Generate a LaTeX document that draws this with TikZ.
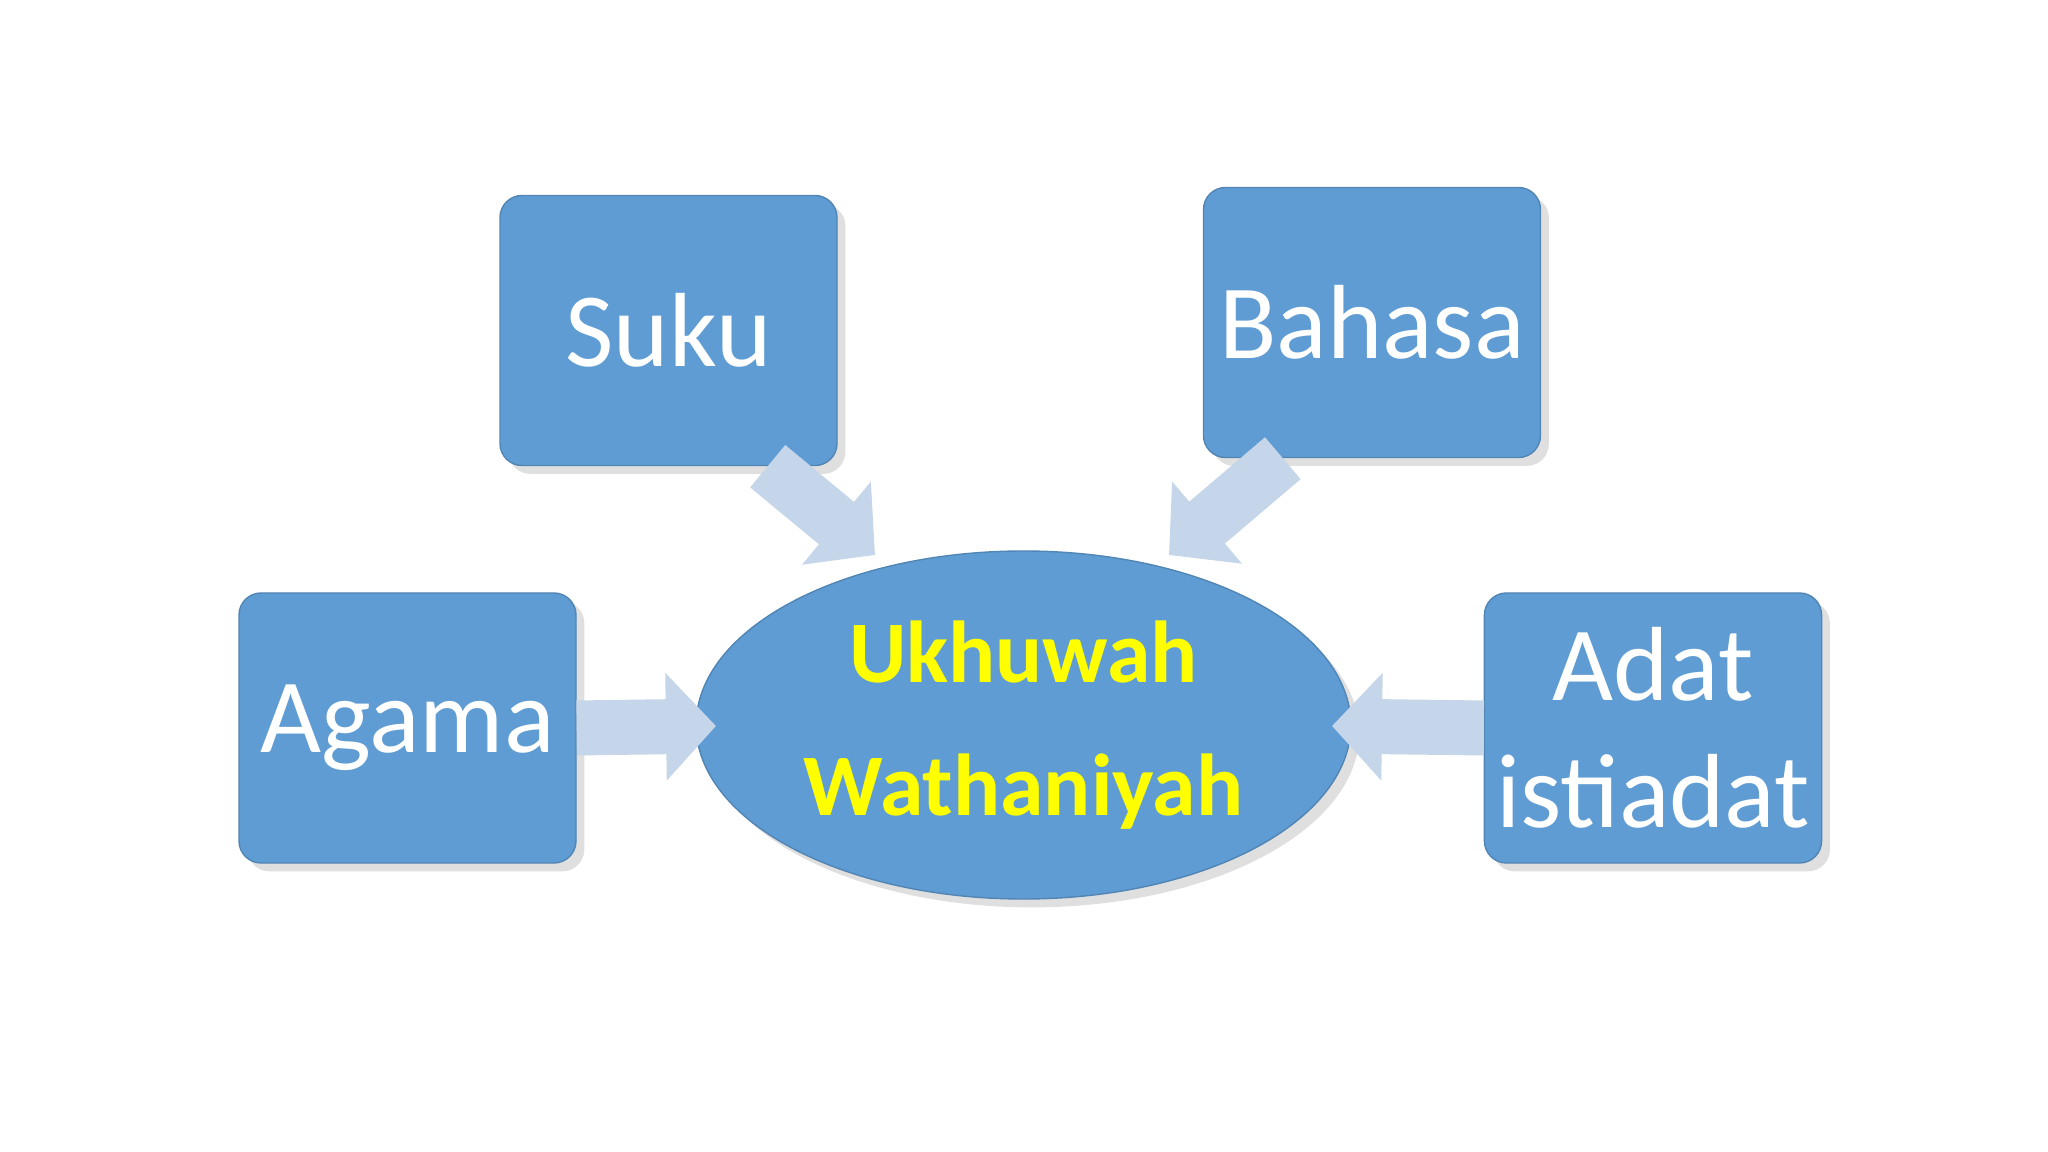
\documentclass[tikz,border=0pt]{standalone}
\usepackage{fontspec}
\setmainfont{Carlito}
\usetikzlibrary{shapes.geometric,arrows.meta,shadows}

\definecolor{boxblue}{HTML}{5F9CD3}
\definecolor{arrowblue}{HTML}{C5D5EA}
\definecolor{ukhyellow}{HTML}{FFFF00}

\tikzset{%
    topic/.style={draw=boxblue!85!black,thin,fill=boxblue,rounded corners=0.22cm,minimum width=3.37cm,minimum height=2.7cm,
        text=white,font=\fontsize{30}{36}\selectfont,align=center,drop shadow={opacity=0.25}},
    centre/.style={ellipse,draw=boxblue!85!black,thin,fill=boxblue,minimum width=5.8cm,minimum height=3.48cm,
        text=ukhyellow,font=\bfseries\fontsize{25}{38}\selectfont,align=center,drop shadow={opacity=0.25}},
    fat/.style={draw=arrowblue,line width=0.55cm,-{Triangle[width=1.05cm,length=0.5cm]}},
}

\begin{document}
\begin{tikzpicture}[x=1cm,y=-1cm]
\useasboundingbox (0,0) rectangle (20.48,11.52);

% boxes round the centre
\node [topic] (suku) at (6.685,3.305) {Suku};
\node [topic] (bahasa) at (13.72,3.225) {Bahasa};
\node [topic] (agama) at (4.075,7.28) {Agama};
\node [topic] (adat) at (16.53,7.28) {Adat\\istiadat};
\node [centre] (ukh) at (10.235,7.25) {Ukhuwah\\Wathaniyah};

% arrows into the centre
\coordinate (sukuend) at (8.75,5.55);
\coordinate (bahasaend) at (11.69,5.55);
\coordinate (agamaend) at (7.16,7.26);
\coordinate (adatend) at (13.32,7.26);
\draw [fat] (suku.south east) ++(-0.7,0) -- (sukuend);
\draw [fat] (bahasa.south west) ++(0.8,0) -- (bahasaend);
\draw [fat] (agama.east) -- (agamaend);
\draw [fat] (adat.west) -- (adatend);

\end{tikzpicture}
\end{document}
